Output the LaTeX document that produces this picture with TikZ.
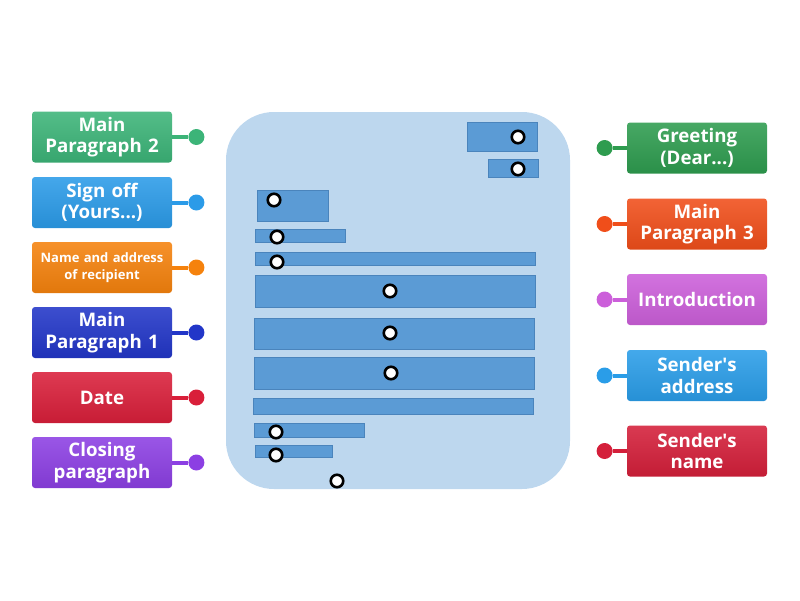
\documentclass[tikz,border=0pt]{standalone}
\usepackage{fontspec}
\setmainfont{Open Sans}
\usetikzlibrary{positioning}
\definecolor{panel}{HTML}{BDD7EE}
\definecolor{barfill}{HTML}{5B9BD5}
\definecolor{barline}{HTML}{4A84BC}
\definecolor{mainB}{HTML}{3CB478}
\definecolor{signoff}{HTML}{2B9BE8}
\definecolor{recipient}{HTML}{F5820D}
\definecolor{mainA}{HTML}{2236C8}
\definecolor{datecol}{HTML}{D91F3A}
\definecolor{closing}{HTML}{8C3FE3}
\definecolor{greeting}{HTML}{2E9C4F}
\definecolor{mainC}{HTML}{F04E1A}
\definecolor{intro}{HTML}{CC5FDA}
\definecolor{saddress}{HTML}{2A9DE8}
\definecolor{sname}{HTML}{D41F3A}
\tikzset{
  tagbox/.style={rectangle, rounded corners=3pt, minimum width=140pt, minimum height=51pt,
    text width=138pt, align=center, inner sep=0pt, text=white,
    font=\fontsize{18.7}{21.5}\selectfont\bfseries,
    top color=#1!88!white, bottom color=#1!92!black},
  tagdot/.style={circle, fill=#1, minimum size=16pt, inner sep=0pt},
  tagline/.style={draw=#1, line width=4pt},
  slot/.style={circle, draw=black, line width=2.6pt, fill=white, minimum size=12.5pt, inner sep=0pt},
  bar/.style={fill=barfill, draw=barline, line width=0.6pt}
}
\begin{document}
\begin{tikzpicture}[x=1pt,y=-1pt]
  \useasboundingbox (0,0) rectangle (800,600);
  % Draw the letter
  \fill[panel, rounded corners=48pt] (226,112) rectangle (570,489);
  \draw[bar] (467,122) rectangle (537,151);
  \draw[bar] (488,159) rectangle (538,177);
  \draw[bar] (257,190) rectangle (328,221);
  \draw[bar] (255,229) rectangle (345,242);
  \draw[bar] (255,252) rectangle (535,265);
  \draw[bar] (255,275) rectangle (535,307);
  \draw[bar] (254,318) rectangle (534,349);
  \draw[bar] (254,357) rectangle (534,389);
  \draw[bar] (253,398) rectangle (533,414);
  \draw[bar] (254,423) rectangle (364,437);
  \draw[bar] (255,445) rectangle (332,457);
  % slots
  \node[slot] (s1) at (518,137) {};
  \node[slot] (s2) at (518,169) {};
  \node[slot] (s3) at (274,200) {};
  \node[slot] (s4) at (277,237) {};
  \node[slot] (s5) at (277,262) {};
  \node[slot] (s6) at (390,291) {};
  \node[slot] (s7) at (390,333) {};
  \node[slot] (s8) at (391,373) {};
  \node[slot] (s9) at (276,432) {};
  \node[slot] (s10) at (276,455) {};
  \node[slot] (s11) at (337,481) {};
  % left labels
  \node[tagbox=mainB] (mp2) at (102,137) {Main\\Paragraph 2};
  \node[tagbox=signoff] (off) at (102,202.5) {Sign off\\(Yours...)};
  \node[tagbox=recipient, font=\fontsize{13}{16.5}\selectfont\bfseries] (rec) at (102,267.5) {Name and address\\of recipient};
  \node[tagbox=mainA] (mp1) at (102,332.5) {Main\\Paragraph 1};
  \node[tagbox=datecol] (date) at (102,397.5) {Date};
  \node[tagbox=closing] (clo) at (102,462.5) {Closing\\paragraph};
  \node[tagdot=mainB, right=16pt of mp2] (dmp2) {};
  \node[tagdot=signoff, right=16pt of off] (doff) {};
  \node[tagdot=recipient, right=16pt of rec] (drec) {};
  \node[tagdot=mainA, right=16pt of mp1] (dmp1) {};
  \node[tagdot=datecol, right=16pt of date] (ddate) {};
  \node[tagdot=closing, right=16pt of clo] (dclo) {};
  \draw[tagline=mainB] (mp2) -- (dmp2);
  \draw[tagline=signoff] (off) -- (doff);
  \draw[tagline=recipient] (rec) -- (drec);
  \draw[tagline=mainA] (mp1) -- (dmp1);
  \draw[tagline=datecol] (date) -- (ddate);
  \draw[tagline=closing] (clo) -- (dclo);
  % right labels
  \node[tagbox=greeting] (gre) at (697,148) {Greeting\\(Dear...)};
  \node[tagbox=mainC] (mp3) at (697,224) {Main\\Paragraph 3};
  \node[tagbox=intro] (int) at (697,299.5) {Introduction};
  \node[tagbox=saddress] (sad) at (697,375.5) {Sender\textquotesingle s\\address};
  \node[tagbox=sname] (sna) at (697,451) {Sender\textquotesingle s\\name};
  \node[tagdot=greeting, left=14pt of gre] (dgre) {};
  \node[tagdot=mainC, left=14pt of mp3] (dmp3) {};
  \node[tagdot=intro, left=14pt of int] (dint) {};
  \node[tagdot=saddress, left=14pt of sad] (dsad) {};
  \node[tagdot=sname, left=14pt of sna] (dsna) {};
  \draw[tagline=greeting] (gre) -- (dgre);
  \draw[tagline=mainC] (mp3) -- (dmp3);
  \draw[tagline=intro] (int) -- (dint);
  \draw[tagline=saddress] (sad) -- (dsad);
  \draw[tagline=sname] (sna) -- (dsna);
\end{tikzpicture}
\end{document}
